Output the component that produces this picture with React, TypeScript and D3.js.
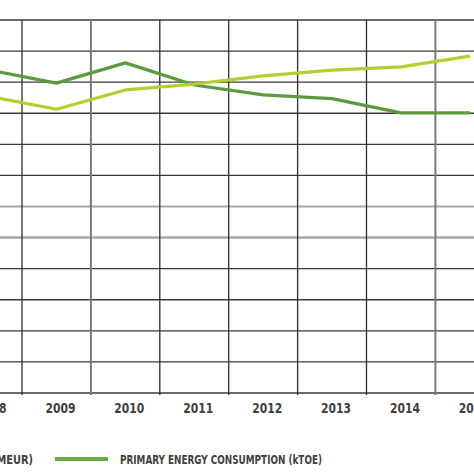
import React from "react";
import * as d3 from "d3";

const years = [2008, 2009, 2010, 2011, 2012, 2013, 2014, 2015];
const primaryEnergy = [10.4, 9.97, 10.62, 9.91, 9.59, 9.47, 9.01, 9.01];
const gdpSeries = [9.56, 9.13, 9.75, 9.94, 10.2, 10.39, 10.49, 10.84];
const yTicks = d3.range(0, 13);
const legendGdp = "GROSS DOMESTIC PRODUCT (MEUR)";
const legendEnergy = "PRIMARY ENERGY CONSUMPTION (kTOE)";

const W = 474;
const H = 474;
const FONT = "'DejaVu Sans Condensed', 'Liberation Sans Narrow', sans-serif";

export default function App() {
  const step = 68.9;
  const x = d3
    .scaleBand<number>()
    .domain(years)
    .range([22 - step, 22 + 7 * step])
    .padding(0);
  const y = d3.scaleLinear().domain([0, 12]).range([393, 20]);
  const cx = (yr: number) => (x(yr) as number) + x.bandwidth() / 2;

  const line = d3
    .line<number>()
    .x((_, i) => cx(years[i]))
    .y((d) => y(d));

  const boundaries = years.map((yr) => x(yr) as number).concat([(x(2015) as number) + x.bandwidth()]);
  const grayH = new Set([6, 5]);
  const grayV = new Set([2, 7]);

  return (
    <svg
      width={W}
      height={H}
      style={{ position: "absolute", left: 0, top: 0, background: "#fff" }}
    >
      <rect width={W} height={H} fill="#fff" />
      {yTicks.map((t) => (
        <line
          key={"h" + t}
          x1={0}
          x2={W}
          y1={y(t)}
          y2={y(t)}
          stroke={grayH.has(t) ? "#a8a8a8" : "#3a3a3a"}
          strokeWidth={t === 5 ? 2.5 : grayH.has(t) ? 1.8 : 1.3}
        />
      ))}
      {boundaries.map((bx, i) => (
        <line
          key={"v" + i}
          x1={bx}
          x2={bx}
          y1={y(12)}
          y2={y(0) + 2}
          stroke={grayV.has(i) ? "#7a7a7a" : "#2e2e2e"}
          strokeWidth={grayV.has(i) ? 2 : 1.3}
        />
      ))}
      <path d={line(primaryEnergy) || ""} fill="none" stroke="#5c9a3e" strokeWidth={3.2} strokeLinejoin="round" />
      <path d={line(gdpSeries) || ""} fill="none" stroke="#b6cd30" strokeWidth={3.2} strokeLinejoin="round" />
      {years.map((yr) => (
        <text
          key={"t" + yr}
          x={cx(yr) + 4 - 15}
          y={413}
          fontFamily={FONT}
          fontWeight="bold"
          fontSize={14}
          fill="#3f3f3f"
          textLength={30}
          lengthAdjust="spacingAndGlyphs"
        >
          {String(yr)}
        </text>
      ))}
      <text
        x={33 - 200}
        y={464}
        fontFamily={FONT}
        fontWeight="bold"
        fontSize={12.5}
        fill="#3f3f3f"
        textLength={200}
        lengthAdjust="spacingAndGlyphs"
      >
        {legendGdp}
      </text>
      <line x1={55} x2={108} y1={459} y2={459} stroke="#6aaa3c" strokeWidth={4} />
      <text
        x={120}
        y={464}
        fontFamily={FONT}
        fontWeight="bold"
        fontSize={12.5}
        fill="#3f3f3f"
        textLength={202}
        lengthAdjust="spacingAndGlyphs"
      >
        {legendEnergy}
      </text>
    </svg>
  );
}
